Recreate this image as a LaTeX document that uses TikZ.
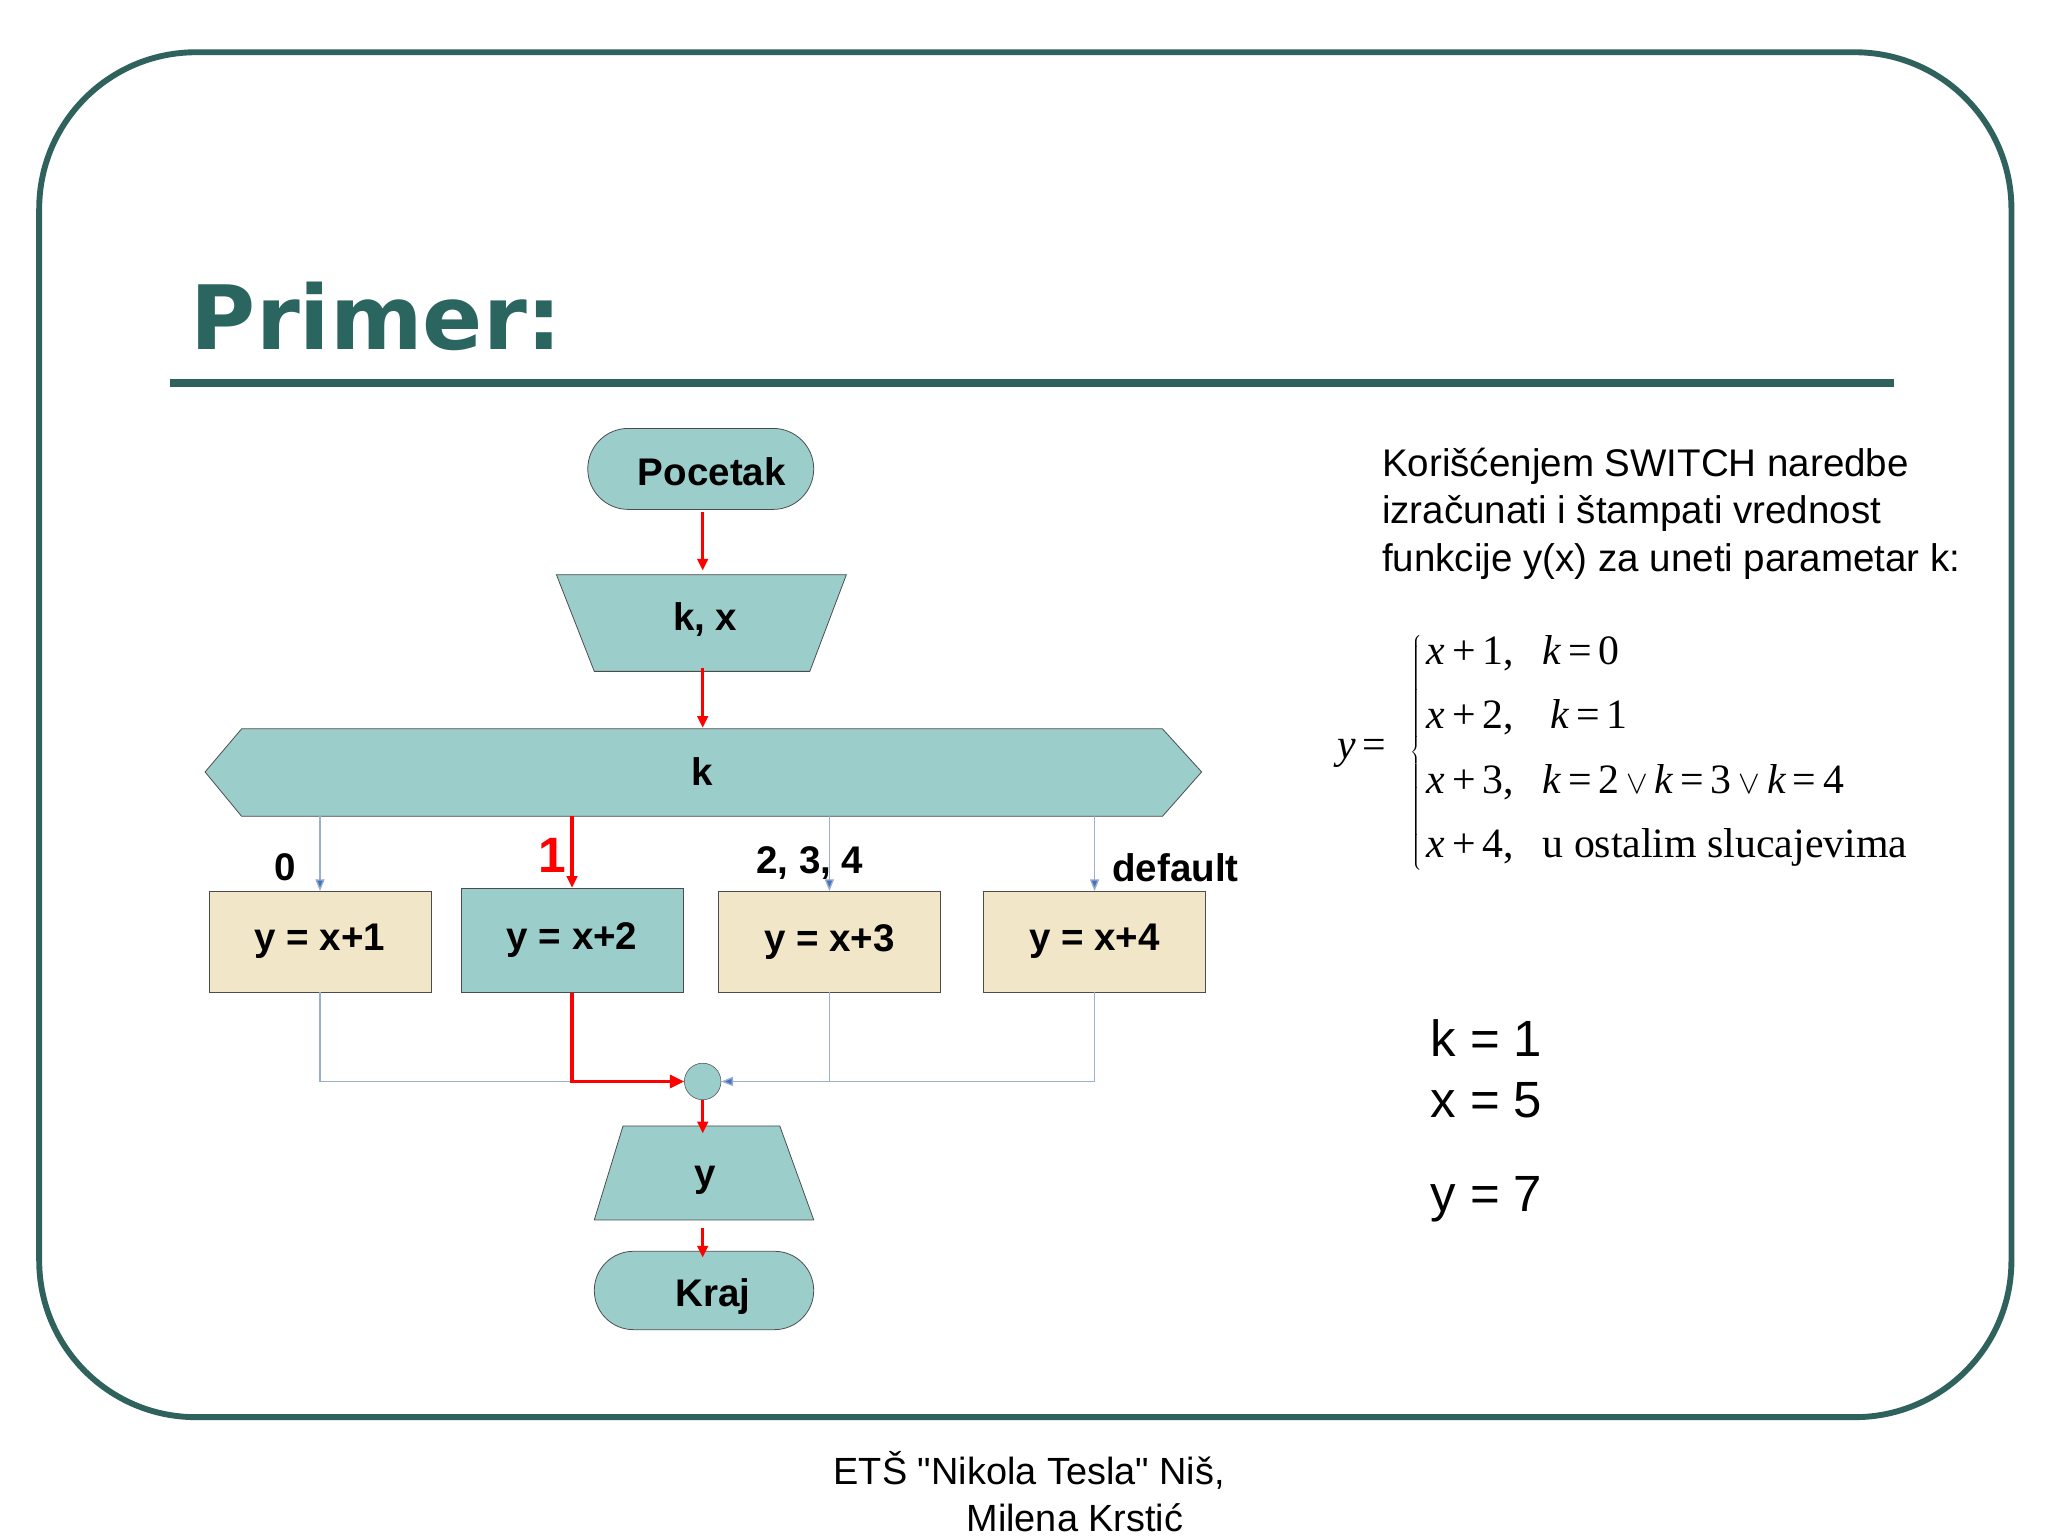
\documentclass[tikz,border=0pt]{standalone}
\usepackage{fontspec}
\setmainfont{Liberation Sans}
\newfontfamily\footf{Liberation Sans}[Ligatures=TeXOff]
\newfontfamily\serifm{Liberation Serif}
\newfontfamily\titlef{DejaVu Sans}
\usetikzlibrary{arrows.meta}
\definecolor{frame}{HTML}{2F625D}
\definecolor{tealf}{HTML}{9BCDCB}
\definecolor{cream}{HTML}{F1E7C8}
\definecolor{bline}{HTML}{9AAFCB}
\definecolor{barr}{HTML}{4472C4}
\tikzset{
 box/.style={draw=black!70,line width=0.6pt,minimum width=170pt,minimum height=77pt,inner sep=0pt,font=\fontsize{29.5}{30}\selectfont\bfseries},
 ghost/.style={inner sep=0pt,font=\fontsize{29.5}{30}\selectfont\bfseries},
 shp/.style={draw=black!70,line width=0.6pt,fill=tealf},
 red/.style={draw=red,line width=2.6pt,-{Triangle[length=9pt,width=8pt]}},
 redl/.style={draw=red,line width=2.6pt},
 blu/.style={draw=bline,line width=1pt,-{Triangle[length=9pt,width=7pt,fill=barr]}},
 blul/.style={draw=bline,line width=1pt},
 lbl/.style={font=\fontsize{29.5}{30}\selectfont\bfseries,inner sep=0pt},
 rtext/.style={font=\fontsize{29.5}{37}\selectfont,anchor=west,inner sep=0pt},
 eq/.style={font=\serifm\fontsize{32}{34}\selectfont,anchor=west,inner sep=0pt},
}
\newcommand{\eqs}{\hspace{5pt}=\hspace{5pt}}
\begin{document}
\begin{tikzpicture}[x=1pt,y=-1pt]
\useasboundingbox (0,0) rectangle (1568,1176);
\fill[white] (0,0) rectangle (1568,1176);
\draw[frame,line width=4.5pt,rounded corners=120pt] (30,40) rectangle (1540,1085);
\node[anchor=west,text=frame!90!teal,font=\titlef\fontsize{68}{70}\selectfont\bfseries,inner sep=0pt] (title) at (146,242) {Primer:};
\draw[frame,line width=6pt] (130,293) -- (1450,293);
% start
\draw[shp,rounded corners=31pt] (450,328) rectangle (623,390);
\node[ghost,minimum width=173pt,minimum height=62pt] (poc) at (538,361) {\hspace{14pt}Pocetak};
% input k,x
\draw[shp] (426,440) -- (648,440) -- (620,514) -- (455,514) -- cycle;
\node[ghost,minimum width=200pt,minimum height=74pt] (kx) at (538,474) {\hspace{4pt}k, x};
% switch
\draw[shp] (185,558) -- (890,558) -- (920,591) -- (890,625) -- (185,625) -- (157,591) -- cycle;
\node[ghost,minimum width=760pt,minimum height=67pt] (sw) at (538,591) {k};
% boxes
\node[box,fill=cream] (b1) at (245,721) {y = x+1};
\node[box,fill=tealf,minimum height=80pt] (b2) at (438,720) {y = x+2};
\node[box,fill=cream] (b3) at (635,721) {y = x+3};
\node[box,fill=cream] (b4) at (838,721) {y = x+4};
\node[lbl] (l0) at (218,664) {0};
\node[lbl,text=red,font=\fontsize{38}{40}\selectfont\bfseries] (l1) at (423,655) {1};
\node[lbl] (l2) at (620,661) {2, 3, 4};
\node[lbl] (l3) at (900,664) {default};
\draw[blu] (sw.south -| b1) -- (b1.north);
\draw[red] (sw.south -| b2) -- (b2.north);
\draw[blu] (sw.south -| b3) -- (b3.north);
\draw[blu] (sw.south -| b4) -- (b4.north);
% join
\node[circle,draw=black!70,fill=tealf,minimum size=28pt,inner sep=0pt] (j) at (538,828) {};
\draw[blul] (b1.south) |- (j.west);
\draw[blul] (b3.south) |- (j.east);
\draw[blu] (b4.south) |- (j.east);
\draw[redl,-{Triangle[length=11pt,width=10pt]}] (b2.south) |- (j.west);
% output y
\draw[shp] (477,862) -- (597,862) -- (623,934) -- (455,934) -- cycle;
\node[ghost,minimum width=168pt,minimum height=72pt] (yo) at (540,904) {y};
% end
\draw[shp,rounded corners=30pt] (455,958) rectangle (623,1018);
\node[ghost,minimum width=168pt,minimum height=60pt] (kraj) at (539,993) {\hspace{14pt}Kraj};
\draw[red] (poc.south) -- (kx.north);
\draw[red] (kx.south) -- (sw.north);
\draw[red] (j.south) -- (j.south |- yo.north);
\draw[red] (yo.south -| j) -- (j |- kraj.north);
% right text
\node[rtext] (t1) at (1058,357) {Korišćenjem SWITCH naredbe};
\node[rtext] (t2) at (1058,393) {izračunati i štampati vrednost};
\node[rtext] (t3) at (1058,430) {funkcije y(x) za uneti parametar k:};
\node[eq] (ye) at (1024,577) {\itshape y\upshape\eqs};
\node[inner sep=0pt,anchor=east] (br) at (1090,575) {$\left\{\rule{0pt}{95pt}\right.$};
\node[eq] (r1) at (1092,500) {\textit{x}\,+\,1,\hspace{22pt}\textit{k}\eqs0};
\node[eq] (r2) at (1092,549) {\textit{x}\,+\,2,\hspace{28pt}\textit{k}\eqs1};
\node[eq] (r3) at (1092,599) {\textit{x}\,+\,3,\hspace{22pt}\textit{k}\eqs2\,$\vee$\,\textit{k}\eqs3\,$\vee$\,\textit{k}\eqs4};
\node[eq] (r4) at (1092,649) {\textit{x}\,+\,4,\hspace{22pt}u ostalim slucajevima};
\node[rtext,font=\fontsize{39}{40}\selectfont] (k1) at (1095,795) {k = 1};
\node[rtext,font=\fontsize{39}{40}\selectfont] (x5) at (1095,842) {x = 5};
\node[rtext,font=\fontsize{39}{40}\selectfont] (y7) at (1095,918) {y = 7};
\node[font=\footf\fontsize{29}{30}\selectfont,inner sep=0pt] (f1) at (788,1126) {ETŠ "Nikola Tesla" Niš,};
\node[font=\fontsize{29}{30}\selectfont,inner sep=0pt] (f2) at (823,1162) {Milena Krstić};
\end{tikzpicture}
\end{document}
